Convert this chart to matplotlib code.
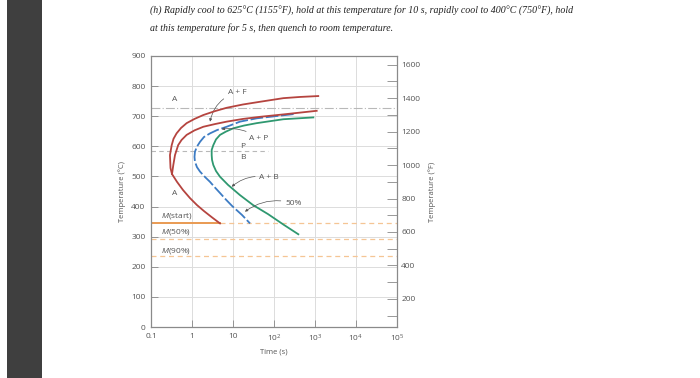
"""
plot.py
Isothermal transformation diagram with M(start)/M(50%)/M(90%) lines,
recreated from a textbook figure (treatment h).
"""

import matplotlib
matplotlib.use("Agg")
import matplotlib.pyplot as plt
from matplotlib.patches import Rectangle
from matplotlib.ticker import FixedLocator, NullFormatter

# ── Data ───────────────────────────────────────────────────────────────────────
# outer red curve: start of transformation (full C-curve)
red_outer_t = [1200, 431, 169, 45.6, 17.5, 7.0, 3.64, 1.89, 1.15, 0.74, 0.54, 0.42, 0.354, 0.32,
               0.29, 0.299, 0.325, 0.431, 0.603, 0.894, 1.32, 1.96, 3.08, 4.82]
red_outer_T = [767, 764, 760, 748, 739, 728, 717, 704, 691, 677, 661, 643, 625, 604,
               571, 528, 508, 482, 455, 428, 405, 385, 364, 344]

# inner red curve: upper branch merging near the nose
red_inner_t = [1100, 431, 169, 45.6, 17.5, 7.0, 3.64, 1.89, 1.15, 0.74, 0.555, 0.46, 0.385, 0.35, 0.325]
red_inner_T = [718, 712, 706, 698, 691, 682, 674, 665, 653, 638, 621, 604, 571, 538, 508]

# blue dashed: 50 % curve
blue_t = [300, 37.8, 14.8, 7.0, 4.07, 2.75, 1.96, 1.57, 1.32, 1.18, 1.15, 1.18, 1.32, 1.57,
          2.08, 2.75, 3.64, 4.82, 6.74, 9.5, 16.6, 26]
blue_T = [707, 693, 682, 665, 654, 643, 631, 615, 599, 582, 565, 549, 531, 516,
          498, 482, 463, 445, 423, 402, 372, 344]

# green: end of transformation
green_t = [910, 169, 37.8, 18.5, 10.2, 6.74, 4.82, 3.85, 3.31, 3.02, 3.02, 3.08, 3.31, 3.85,
           4.82, 7.55, 14.8, 30.8, 71.4, 175, 392]
green_T = [696, 690, 677, 669, 660, 649, 638, 623, 604, 588, 571, 555, 538, 518,
           499, 472, 438, 405, 375, 339, 308]

eutectoid_T = 727
pb_T = 585
pb_t_end = 70
ms_T, m50_T, m90_T = 344, 291, 236
ms_t_end = 4.82

x_ticks = [0.1, 1, 10, 100, 1e3, 1e4, 1e5]
x_ticklabels = ["0.1", "1", "10", r"10$^2$", r"10$^3$", r"10$^4$", r"10$^5$"]
c_ticks = list(range(0, 901, 100))
f_major = list(range(200, 1601, 200))
f_minor = list(range(100, 1601, 200))

title_lines = [
    "(h) Rapidly cool to 625\u00b0C (1155\u00b0F), hold at this temperature for 10 s, "
    "rapidly cool to 400\u00b0C (750\u00b0F), hold",
    "at this temperature for 5 s, then quench to room temperature.",
]

# ── Style ──────────────────────────────────────────────────────────────────────
RED = "#b5443f"
BLUE = "#3d7cc4"
GREEN = "#2f9870"
ORANGE = "#e99a52"
ORANGE_L = "#f5c594"
GRID = "#dcdcdc"
TXT = "#555555"
SANS = ["Open Sans", "DejaVu Sans"]
FS = 6.0

plt.rcParams["font.family"] = SANS
plt.rcParams["mathtext.fontset"] = "custom"
plt.rcParams["mathtext.rm"] = "Open Sans"
plt.rcParams["mathtext.it"] = "Open Sans:italic"

fig = plt.figure(figsize=(7.0, 3.78), dpi=100)
fig.patches.append(Rectangle((7 / 700, 0), 35 / 700, 1, transform=fig.transFigure,
                             facecolor="#3f3f3f", edgecolor="none", zorder=0))

ax = fig.add_axes([151 / 700, 51 / 378, 246 / 700, 271 / 378])
ax.set_xscale("log")
ax.set_xlim(0.1, 1e5)
ax.set_ylim(0, 900)

# grid
for t in x_ticks[1:-1]:
    ax.axvline(t, color=GRID, lw=0.7, zorder=0)
for c in c_ticks[1:-1]:
    ax.axhline(c, color=GRID, lw=0.7, zorder=0)

# reference lines
ax.axhline(eutectoid_T, color="#b8b8b8", lw=0.8, ls=(0, (8, 2, 1, 2)), zorder=1)
ax.plot([0.1, pb_t_end], [pb_T, pb_T], color="#b8b8b8", lw=0.8, ls=(0, (4, 3)), zorder=1)

# martensite lines
ax.plot([0.1, ms_t_end], [ms_T, ms_T], color=ORANGE, lw=1.4, zorder=2)
ax.plot([ms_t_end, 1e5], [ms_T, ms_T], color=ORANGE_L, lw=0.9, ls=(0, (4, 3)), zorder=1)
ax.axhline(m50_T, color=ORANGE_L, lw=0.9, ls=(0, (4, 3)), zorder=1)
ax.axhline(m90_T, color=ORANGE_L, lw=0.9, ls=(0, (4, 3)), zorder=1)

# transformation curves
ax.plot(green_t, green_T, color=GREEN, lw=1.3, zorder=3)
ax.plot(blue_t, blue_T, color=BLUE, lw=1.3, ls=(0, (7, 1.5)), zorder=3)
ax.plot(red_inner_t, red_inner_T, color=RED, lw=1.3, zorder=4)
ax.plot(red_outer_t, red_outer_T, color=RED, lw=1.3, zorder=4)

# region labels
lab = dict(fontsize=FS, color=TXT, ha="center", va="center")
ax.text(0.385, 756, "A", **lab)
ax.text(0.385, 444, "A", **lab)
ax.text(17.3, 601, "P", **lab)
ax.text(17.3, 564, "B", **lab)
arrow = dict(arrowstyle="-|>", color=TXT, lw=0.5, mutation_scale=4, shrinkA=1, shrinkB=0)
ax.annotate("A + F", xy=(2.75, 682), xytext=(7.4, 779), fontsize=FS, color=TXT,
            ha="left", va="center",
            arrowprops=dict(arrow, connectionstyle="arc3,rad=0.3"))
ax.annotate("A + P", xy=(5.3, 657), xytext=(25, 627), fontsize=FS, color=TXT,
            ha="left", va="center",
            arrowprops=dict(arrow, connectionstyle="arc3,rad=0.2"))
ax.annotate("A + B", xy=(9.3, 466), xytext=(43.8, 496), fontsize=FS, color=TXT,
            ha="left", va="center",
            arrowprops=dict(arrow, connectionstyle="arc3,rad=0.25"))
ax.annotate("50%", xy=(19.6, 383), xytext=(185, 411), fontsize=FS, color=TXT,
            ha="left", va="center",
            arrowprops=dict(arrow, connectionstyle="arc3,rad=0.25"))

mlab = dict(fontsize=FS, color=TXT, ha="left", va="center")
ax.text(0.18, ms_T + 24, r"$\mathit{M}$(start)", **mlab)
ax.text(0.18, m50_T + 23, r"$\mathit{M}$(50%)", **mlab)
ax.text(0.18, m90_T + 18, r"$\mathit{M}$(90%)", **mlab)

# axes cosmetics
ax.set_xticks(x_ticks)
ax.set_xticklabels(x_ticklabels)
ax.xaxis.set_minor_locator(FixedLocator([]))
ax.set_yticks(c_ticks)
ax.tick_params(direction="in", length=5, width=0.6, color="#888888",
               labelsize=FS, labelcolor=TXT, pad=4)
for s in ax.spines.values():
    s.set_color("#8a8a8a")
    s.set_linewidth(0.9)
ax.set_ylabel("Temperature (\u00b0C)", fontsize=5.5, color=TXT, labelpad=4)
ax.set_xlabel("Time (s)", fontsize=5.5, color=TXT, labelpad=3)

ax2 = ax.twinx()
ax2.set_ylim(0 * 9 / 5 + 32, 900 * 9 / 5 + 32)
ax2.yaxis.set_major_locator(FixedLocator(f_major))
ax2.yaxis.set_minor_locator(FixedLocator(f_minor))
ax2.yaxis.set_minor_formatter(NullFormatter())
ax2.tick_params(which="both", direction="in", length=7, width=0.6, color="#888888",
                labelsize=FS, labelcolor=TXT, pad=3)
for s in ax2.spines.values():
    s.set_visible(False)
ax2.set_ylabel("Temperature (\u00b0F)", fontsize=5.5, color=TXT, labelpad=6)

# title lines
for i, line in enumerate(title_lines):
    fig.text(150 / 700, 1 - (11 + 17 * i) / 378, line, fontsize=7.1, style="italic",
             family=["Liberation Serif", "DejaVu Serif"], color="#222222",
             ha="left", va="center")

fig.savefig("out.png", dpi=100)
